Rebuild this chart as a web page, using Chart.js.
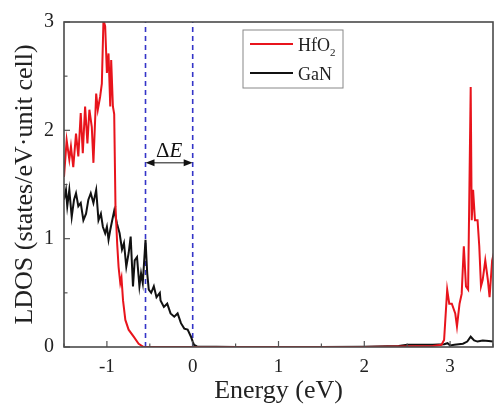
<!DOCTYPE html>
<html>
<head>
<meta charset="utf-8">
<script src="https://cdn.jsdelivr.net/npm/chart.js@4.4.0/dist/chart.umd.min.js"></script>
<style>
  html, body { margin: 0; padding: 0; background: #fff; }
  #wrap { width: 504px; height: 412px; }
</style>
</head>
<body>
<div id="wrap"><canvas id="ldos"></canvas></div>
<script>
const hfo2Color = '#e8141c';
const ganColor = '#111111';
const markColor = '#3434c8';
const serif = '"Liberation Serif", "Times New Roman", serif';

// HfO2 LDOS
const hfo2Energy = [
    -1.50, -1.469, -1.438, -1.419, -1.392, -1.36, -1.333, -1.305, -1.281, -1.254,
    -1.227, -1.204, -1.176, -1.157, -1.125, -1.106, -1.079, -1.059, -1.04, -1.02,
    -1.0, -0.981, -0.961, -0.95, -0.93, -0.915, -0.90, -0.88, -0.864, -0.844,
    -0.83, -0.812, -0.785, -0.747, -0.688, -0.63, -0.571, 0, 1, 2, 2.4, 2.8, 2.9,
    2.93, 2.966, 2.99, 3.02, 3.06, 3.08, 3.11, 3.135, 3.16, 3.185, 3.21, 3.24,
    3.252, 3.268, 3.29, 3.32, 3.34, 3.36, 3.38, 3.41, 3.44, 3.46, 3.49, 3.52
];
const hfo2Ldos = [
    1.57, 1.91, 1.73, 1.85, 1.66, 1.97, 1.76, 2.16, 1.79, 2.22,
    1.88, 2.19, 2.03, 1.70, 2.34, 2.19, 2.31, 2.43, 3.02, 2.96,
    2.53, 2.71, 2.22, 2.65, 2.22, 2.15, 1.30, 0.95, 0.74, 0.59,
    0.64, 0.43, 0.25, 0.16, 0.095, 0.03, 0.0, 0.0, 0.0, 0.0, 0.005, 0.01, 0.02,
    0.065, 0.53, 0.40, 0.40, 0.31, 0.19, 0.40, 0.49, 0.93, 0.56, 0.53, 2.40,
    1.17, 1.45, 1.17, 1.17, 0.93, 0.56, 0.62, 0.80, 0.62, 0.46, 0.80, 0.90
];

// GaN LDOS
const ganEnergy = [
    -1.50, -1.477, -1.462, -1.438, -1.41, -1.383, -1.36, -1.333, -1.305, -1.274,
    -1.243, -1.216, -1.188, -1.157, -1.125, -1.098, -1.07, -1.047, -1.02, -1.0,
    -0.981, -0.961, -0.938, -0.914, -0.883, -0.852, -0.824, -0.801, -0.774, -0.746,
    -0.723, -0.696, -0.676, -0.649, -0.621, -0.602, -0.582, -0.55, -0.53, -0.512,
    -0.484, -0.453, -0.422, -0.383, -0.375, -0.336, -0.297, -0.258, -0.215, -0.176,
    -0.137, -0.098, -0.059, -0.020, 0.0, 0.016, 0.05, 0.5, 1, 1.5, 2, 2.4, 2.5,
    2.8, 2.93, 2.97, 3.0, 3.05, 3.15, 3.2, 3.24, 3.28, 3.32, 3.38, 3.45, 3.5
];
const ganLdos = [
    1.36, 1.45, 1.30, 1.45, 1.20, 1.36, 1.42, 1.30, 1.33, 1.17,
    1.23, 1.36, 1.42, 1.33, 1.45, 1.17, 1.23, 1.11, 1.05, 1.11,
    0.99, 1.08, 1.17, 1.26, 1.14, 1.05, 0.90, 0.96, 0.74, 0.87,
    1.02, 0.56, 0.80, 0.83, 0.56, 0.68, 0.59, 0.99, 0.68, 0.53,
    0.50, 0.56, 0.46, 0.50, 0.43, 0.37, 0.40, 0.31, 0.28, 0.31,
    0.22, 0.17, 0.16, 0.095, 0.05, 0.02, 0.005, 0.0, 0.0, 0.0, 0.003, 0.01, 0.02,
    0.02, 0.025, 0.035, 0.015, 0.02, 0.03, 0.05, 0.095, 0.06, 0.05, 0.06, 0.055, 0.05
];

// band edges marking the offset
const edgeEnergies = [-0.55, 0];
const gapLabelY = 1.70;

const xTicks = [-1, 0, 1, 2, 3];
const yTicks = [0, 1, 2, 3];

function toPoints(xs, ys) {
    return xs.map((x, i) => ({ x: x, y: ys[i] }));
}

const frameAndNotes = {
    id: 'frameAndNotes',
    afterDraw(chart) {
        const c = chart.ctx;
        const a = chart.chartArea;
        const xs = chart.scales.x;
        const ys = chart.scales.y;
        c.save();

        // inward ticks, major and minor
        c.strokeStyle = '#555';
        c.lineWidth = 1.2;
        for (let v = -1.5; v <= 3.5; v += 0.5) {
            const px = xs.getPixelForValue(v);
            const len = Number.isInteger(v) ? 6 : 3.5;
            c.beginPath();
            c.moveTo(px, a.bottom);
            c.lineTo(px, a.bottom - len);
            c.stroke();
        }
        for (let v = 0; v <= 3; v += 0.5) {
            const py = ys.getPixelForValue(v);
            const len = Number.isInteger(v) ? 6 : 3.5;
            c.beginPath();
            c.moveTo(a.left, py);
            c.lineTo(a.left + len, py);
            c.stroke();
        }

        // frame
        c.lineWidth = 1.6;
        c.strokeStyle = '#4a4a4a';
        c.strokeRect(a.left, a.top, a.right - a.left, a.bottom - a.top);

        // delta E arrow
        const x0 = xs.getPixelForValue(edgeEnergies[0]);
        const x1 = xs.getPixelForValue(edgeEnergies[1]);
        const ay = ys.getPixelForValue(gapLabelY);
        c.strokeStyle = '#111';
        c.fillStyle = '#111';
        c.lineWidth = 1;
        c.beginPath();
        c.moveTo(x0 + 6, ay);
        c.lineTo(x1 - 6, ay);
        c.stroke();
        [[x0, 1], [x1, -1]].forEach(([px, dir]) => {
            c.beginPath();
            c.moveTo(px, ay);
            c.lineTo(px + dir * 9, ay - 3.5);
            c.lineTo(px + dir * 9, ay + 3.5);
            c.closePath();
            c.fill();
        });
        c.textBaseline = 'alphabetic';
        c.textAlign = 'left';
        c.font = '21px ' + serif;
        const dw = c.measureText('\u0394').width;
        c.font = 'italic 21px ' + serif;
        const ew = c.measureText('E').width;
        const tx = (x0 + x1) / 2 - (dw + ew) / 2;
        c.font = '21px ' + serif;
        c.fillText('\u0394', tx, ay - 6);
        c.font = 'italic 21px ' + serif;
        c.fillText('E', tx + dw, ay - 6);

        // legend box
        const lx = a.left + 179;
        const ly = a.top + 8;
        c.strokeStyle = '#888';
        c.lineWidth = 1;
        c.strokeRect(lx, ly, 100, 58);
        c.lineWidth = 2;
        c.strokeStyle = hfo2Color;
        c.beginPath();
        c.moveTo(lx + 7, ly + 14);
        c.lineTo(lx + 50, ly + 14);
        c.stroke();
        c.strokeStyle = ganColor;
        c.beginPath();
        c.moveTo(lx + 7, ly + 43);
        c.lineTo(lx + 50, ly + 43);
        c.stroke();
        c.fillStyle = '#222';
        c.font = '18px ' + serif;
        c.fillText('HfO', lx + 55, ly + 21);
        const hw = c.measureText('HfO').width;
        c.font = '11px ' + serif;
        c.fillText('2', lx + 55 + hw, ly + 26);
        c.font = '18px ' + serif;
        c.fillText('GaN', lx + 55, ly + 50);

        c.restore();
    }
};

const edgeSets = edgeEnergies.map((e) => ({
    label: 'edge ' + e,
    data: [{ x: e, y: 0 }, { x: e, y: 3 }],
    borderColor: markColor,
    borderWidth: 1.6,
    borderDash: [5, 4],
    pointRadius: 0
}));

new Chart(document.getElementById('ldos'), {
    type: 'line',
    data: {
        datasets: [
            {
                label: 'HfO2',
                data: toPoints(hfo2Energy, hfo2Ldos),
                borderColor: hfo2Color,
                borderWidth: 2,
                pointRadius: 0,
                tension: 0
            },
            {
                label: 'GaN',
                data: toPoints(ganEnergy, ganLdos),
                borderColor: ganColor,
                borderWidth: 2,
                pointRadius: 0,
                tension: 0
            },
            ...edgeSets
        ]
    },
    options: {
        responsive: true,
        maintainAspectRatio: false,
        animation: false,
        layout: { padding: { top: 22, right: 11, left: 0, bottom: 0 } },
        plugins: {
            legend: { display: false },
            tooltip: { enabled: false }
        },
        scales: {
            x: {
                type: 'linear',
                min: -1.5,
                max: 3.5,
                afterBuildTicks: (scale) => { scale.ticks = xTicks.map(v => ({ value: v })); },
                afterFit: (scale) => { scale.height = 65; },
                grid: { display: false, drawTicks: false },
                border: { display: false },
                ticks: {
                    color: '#222',
                    padding: 9,
                    font: { family: serif, size: 19 },
                    callback: (v) => String(v)
                },
                title: {
                    display: true,
                    text: 'Energy (eV)',
                    color: '#222',
                    font: { family: serif, size: 26 },
                    padding: { top: 0, bottom: 5 }
                }
            },
            y: {
                min: 0,
                max: 3,
                afterBuildTicks: (scale) => { scale.ticks = yTicks.map(v => ({ value: v })); },
                afterFit: (scale) => { scale.width = 64; },
                grid: { display: false, drawTicks: false },
                border: { display: false },
                ticks: {
                    color: '#222',
                    padding: 10,
                    font: { family: serif, size: 20 },
                    callback: (v) => String(v)
                },
                title: {
                    display: true,
                    text: 'LDOS (states/eV\u00b7unit cell)',
                    color: '#222',
                    font: { family: serif, size: 26 },
                    padding: { top: 10, bottom: 0 }
                }
            }
        }
    },
    plugins: [frameAndNotes]
});
</script>
</body>
</html>
